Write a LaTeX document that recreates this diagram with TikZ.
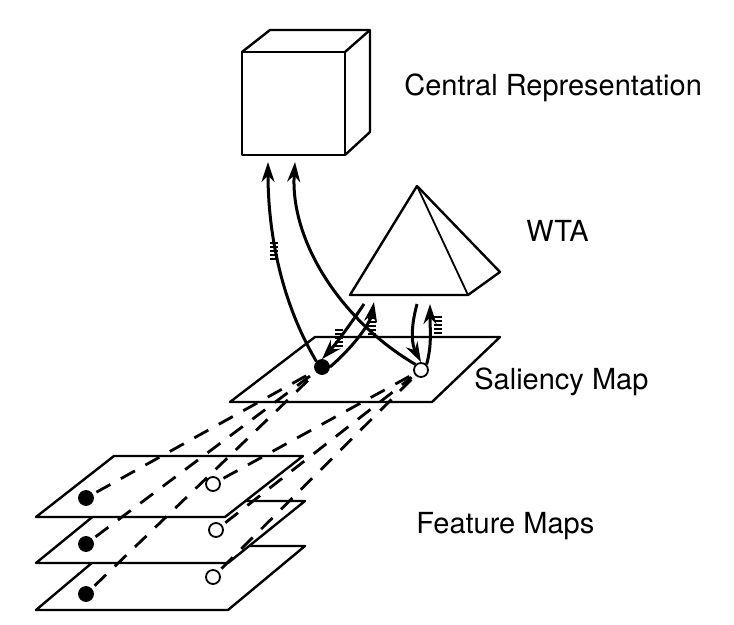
\documentclass[tikz,border=0pt]{standalone}
\usepackage{fontspec}
\setmainfont{TeX Gyre Heros}
\usetikzlibrary{arrows.meta}
\tikzset{
  plane/.style={draw, line width=1.2pt, fill=white, line join=round},
  full/.style={circle, draw, fill=black, inner sep=0pt, minimum size=7.5pt},
  empty/.style={circle, draw, fill=white, line width=0.9pt, inner sep=0pt, minimum size=7pt},
  link/.style={line width=1.4pt, dash pattern=on 8pt off 6pt, shorten <=2pt, shorten >=2pt},
  path/.style={line width=1.5pt, -{Stealth[length=10pt,width=6.5pt]}},
  label/.style={font=\fontsize{14.5}{17}\selectfont, anchor=west, inner sep=0pt}
}
\newcommand{\hatch}[2]{\foreach \k in {0,...,4} {\draw[line width=1pt] (#1,#2+4*\k) -- ++(-8,0);}}
\begin{document}
\begin{tikzpicture}[x=0.5pt,y=-0.5pt]
    \useasboundingbox (0,0) rectangle (734,625);

    % feature maps
    \draw[plane] (112,546) -- (305,546) -- (228,610) -- (36,610) -- cycle;
    \draw[plane] (112,501) -- (305,501) -- (228,563) -- (36,563) -- cycle;
    \draw[plane] (114,456) -- (303,456) -- (225,517) -- (36,517) -- cycle;
    \node[full] (f1) at (86,498) {};
    \node[full] (f2) at (86,544) {};
    \node[full] (f3) at (86,594) {};
    \node[empty] (g1) at (213,484) {};
    \node[empty] (g2) at (216,530) {};
    \node[empty] (g3) at (213,577) {};

    % saliency map
    \draw[plane] (315,337) -- (500,337) -- (432,402) -- (230,402) -- cycle;
    \node[full] (s1) at (322,367) {};
    \node[empty] (s2) at (421,370) {};

    \draw[link] (f1) -- (s1); \draw[link] (f2) -- (s1); \draw[link] (f3) -- (s1);
    \draw[link] (g1) -- (s2); \draw[link] (g2) -- (s2); \draw[link] (g3) -- (s2);

    % central representation
    \draw[plane] (242,52) -- (270,30) -- (370,30) -- (370,132) -- (345,155);
    \draw[plane] (345,52) -- (370,30);
    \draw[plane] (242,52) rectangle (345,155);
    \coordinate (c1) at (268,162);
    \coordinate (c2) at (295,162);

    % WTA
    \draw[plane] (350,295) -- (417,186) -- (500,272) -- (468,295) -- cycle;
    \draw[line width=0.9pt] (417,186) -- (468,295);
    \coordinate (w1) at (374,302);
    \coordinate (w2) at (364,304);
    \coordinate (w3) at (417,304);
    \coordinate (w4) at (430,304);

    \draw[path] (s1.north west) .. controls (280,300) and (268,230) .. (c1);
    \draw[path] (s2.north west) .. controls (340,320) and (290,240) .. (c2);
    \draw[path] (s1.east) .. controls (350,350) and (370,325) .. (w1);
    \draw[path] (w2) .. controls (350,325) and (335,345) .. (s1.north);
    \draw[path] (w3) .. controls (410,330) and (412,345) .. (s2.north);
    \draw[path] (s2.north east) .. controls (432,345) and (430,330) .. (w4);

    \hatch{278}{243}
    \hatch{376}{318}
    \hatch{442}{317}
    \hatch{343}{330}

    \node[label] (central) at (404,88) {Central Representation};
    \node[label] (wta) at (526,231) {WTA};
    \node[label] (saliency) at (474,382) {Saliency Map};
    \node[label] (feature) at (416,526) {Feature Maps};
\end{tikzpicture}
\end{document}
